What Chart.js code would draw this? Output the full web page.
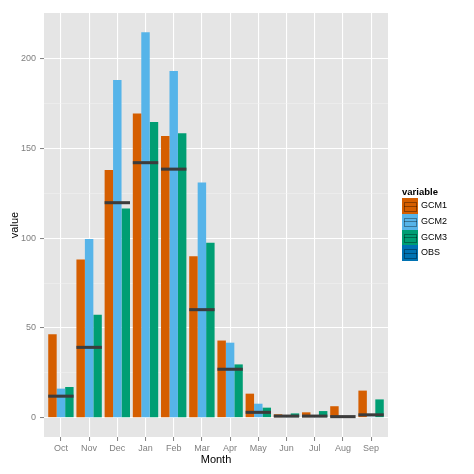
<!DOCTYPE html>
<html>
<head>
<meta charset="utf-8">
<script src="https://cdn.jsdelivr.net/npm/chart.js@4/dist/chart.umd.min.js"></script>
<style>
  html, body { margin: 0; padding: 0; background: #fff; }
  #wrap { position: relative; width: 474px; height: 474px; font-family: "Liberation Sans", Arial, sans-serif; }
  #legend { position: absolute; left: 402px; top: 186px; color: #000; }
  #legend .title { font-weight: bold; font-size: 9.5px; line-height: 12px; height: 12px; }
  #legend .row { position: relative; height: 15.8px; }
  #legend .key { position: absolute; left: 0; top: 0; width: 16px; height: 15.8px; }
  #legend .bar { position: absolute; left: 2px; top: 4px; width: 10.5px; height: 7.5px; border: 1px solid rgba(0,0,0,0.35); }
  #legend .mid { position: absolute; left: 2px; top: 7.5px; width: 12.5px; height: 1px; background: rgba(0,0,0,0.35); }
  #legend .lab { position: absolute; left: 19px; top: 0; font-size: 9px; line-height: 15.8px; white-space: nowrap; }
</style>
</head>
<body>
<div id="wrap">
  <canvas id="chart" width="474" height="474"></canvas>
  <div id="legend"><div class="title">variable</div></div>
</div>
<script>
// monthly values
const months = ["Oct", "Nov", "Dec", "Jan", "Feb", "Mar", "Apr", "May", "Jun", "Jul", "Aug", "Sep"];
const gcm1 = [46.5, 88.2, 138, 169.5, 157, 90, 43, 13.4, 1.9, 3, 6.4, 15.1];
const gcm2 = [16.2, 99.6, 188.2, 214.8, 193.2, 131, 41.8, 7.8, 0.5, 0.4, 0.3, 0.5];
const gcm3 = [17.1, 57.4, 116.6, 164.8, 158.5, 97.5, 29.7, 5.6, 2.4, 3.7, 0.4, 10.2];
const obs = [12, 39.2, 119.8, 142.1, 138.5, 60.2, 27, 3, 0.9, 0.9, 0.6, 1.6];

const yMajor = [0, 50, 100, 150, 200];
const yMinor = [25, 75, 125, 175];

const legendLabels = ["GCM1", "GCM2", "GCM3", "OBS"];
const colors = { GCM1: "#D55E00", GCM2: "#56B4E9", GCM3: "#009E73", OBS: "#0072B2" };
const obsLine = "#3c3c3c";
const obsHalf = 0.85; // half thickness of the crossbar, in value units

const font = "'Liberation Sans', Arial, sans-serif";
const grey = "#7f7f7f";

// legend (ggplot style keys)
const legend = document.getElementById("legend");
legendLabels.forEach((name) => {
  const row = document.createElement("div");
  row.className = "row";
  row.innerHTML =
    '<div class="key" style="background:' + colors[name] + '"><div class="bar"></div><div class="mid"></div></div>' +
    '<div class="lab">' + name + "</div>";
  legend.appendChild(row);
});

const panelBg = {
  id: "panelBg",
  beforeDraw(chart) {
    const { ctx, chartArea: a } = chart;
    ctx.save();
    ctx.fillStyle = "#e5e5e5";
    ctx.fillRect(a.left, a.top, a.right - a.left, a.bottom - a.top);
    ctx.restore();
  },
};

const toXY = (arr) => arr.map((v, i) => ({ x: i, y: v }));

const bars = ["GCM1", "GCM2", "GCM3"].map((name, k) => ({
  label: name,
  data: toXY([gcm1, gcm2, gcm3][k]),
  backgroundColor: colors[name],
  borderWidth: 0,
  categoryPercentage: 0.9,
  barPercentage: 1.0,
  order: 1,
}));

bars.push({
  label: "OBS",
  data: obs.map((v, i) => ({ x: i, y: [v - obsHalf, v + obsHalf] })),
  backgroundColor: obsLine,
  borderWidth: 0,
  grouped: false,
  categoryPercentage: 0.9,
  barPercentage: 1.0,
  order: 0,
});

new Chart(document.getElementById("chart").getContext("2d"), {
  type: "bar",
  data: { datasets: bars },
  plugins: [panelBg],
  options: {
    responsive: false,
    animation: false,
    layout: { padding: { top: 13, right: 86, left: 0, bottom: 0 } },
    plugins: { legend: { display: false }, tooltip: { enabled: false } },
    scales: {
      x: {
        type: "linear",
        min: -0.6,
        max: 11.6,
        offset: false,
        afterBuildTicks: (scale) => {
          scale.ticks = months.map((m, i) => ({ value: i }));
        },
        afterFit: (scale) => {
          scale.height = 37;
        },
        ticks: {
          callback: (v) => months[v] ?? "",
          color: grey,
          font: { family: font, size: 9 },
          padding: 2,
          maxRotation: 0,
          autoSkip: false,
        },
        grid: { offset: false, color: "#ffffff", lineWidth: 1.1, tickColor: grey, tickLength: 4, tickWidth: 1 },
        border: { display: false },
        title: {
          display: true,
          text: "Month",
          color: "#000",
          font: { family: font, size: 11 },
          padding: { top: 0, bottom: 7.4 },
        },
      },
      y: {
        min: -10.75,
        max: 225.5,
        afterBuildTicks: (scale) => {
          scale.ticks = yMajor.concat(yMinor).sort((a, b) => a - b).map((v) => ({ value: v }));
        },
        afterFit: (scale) => {
          scale.width = 44;
        },
        ticks: {
          callback: (v) => (yMajor.includes(v) ? String(v) : ""),
          color: grey,
          font: { family: font, size: 9 },
          padding: 4,
        },
        grid: {
          color: (c) => (yMajor.includes(c.tick.value) ? "#ffffff" : "#f2f2f2"),
          lineWidth: (c) => (yMajor.includes(c.tick.value) ? 1.1 : 0.5),
          tickColor: (c) => (yMajor.includes(c.tick.value) ? grey : "rgba(0,0,0,0)"),
          tickLength: 4,
          tickWidth: 1,
        },
        border: { display: false },
        title: {
          display: true,
          text: "value",
          color: "#000",
          font: { family: font, size: 11 },
          padding: { top: 8.4, bottom: 0 },
        },
      },
    },
  },
});
</script>
</body>
</html>
